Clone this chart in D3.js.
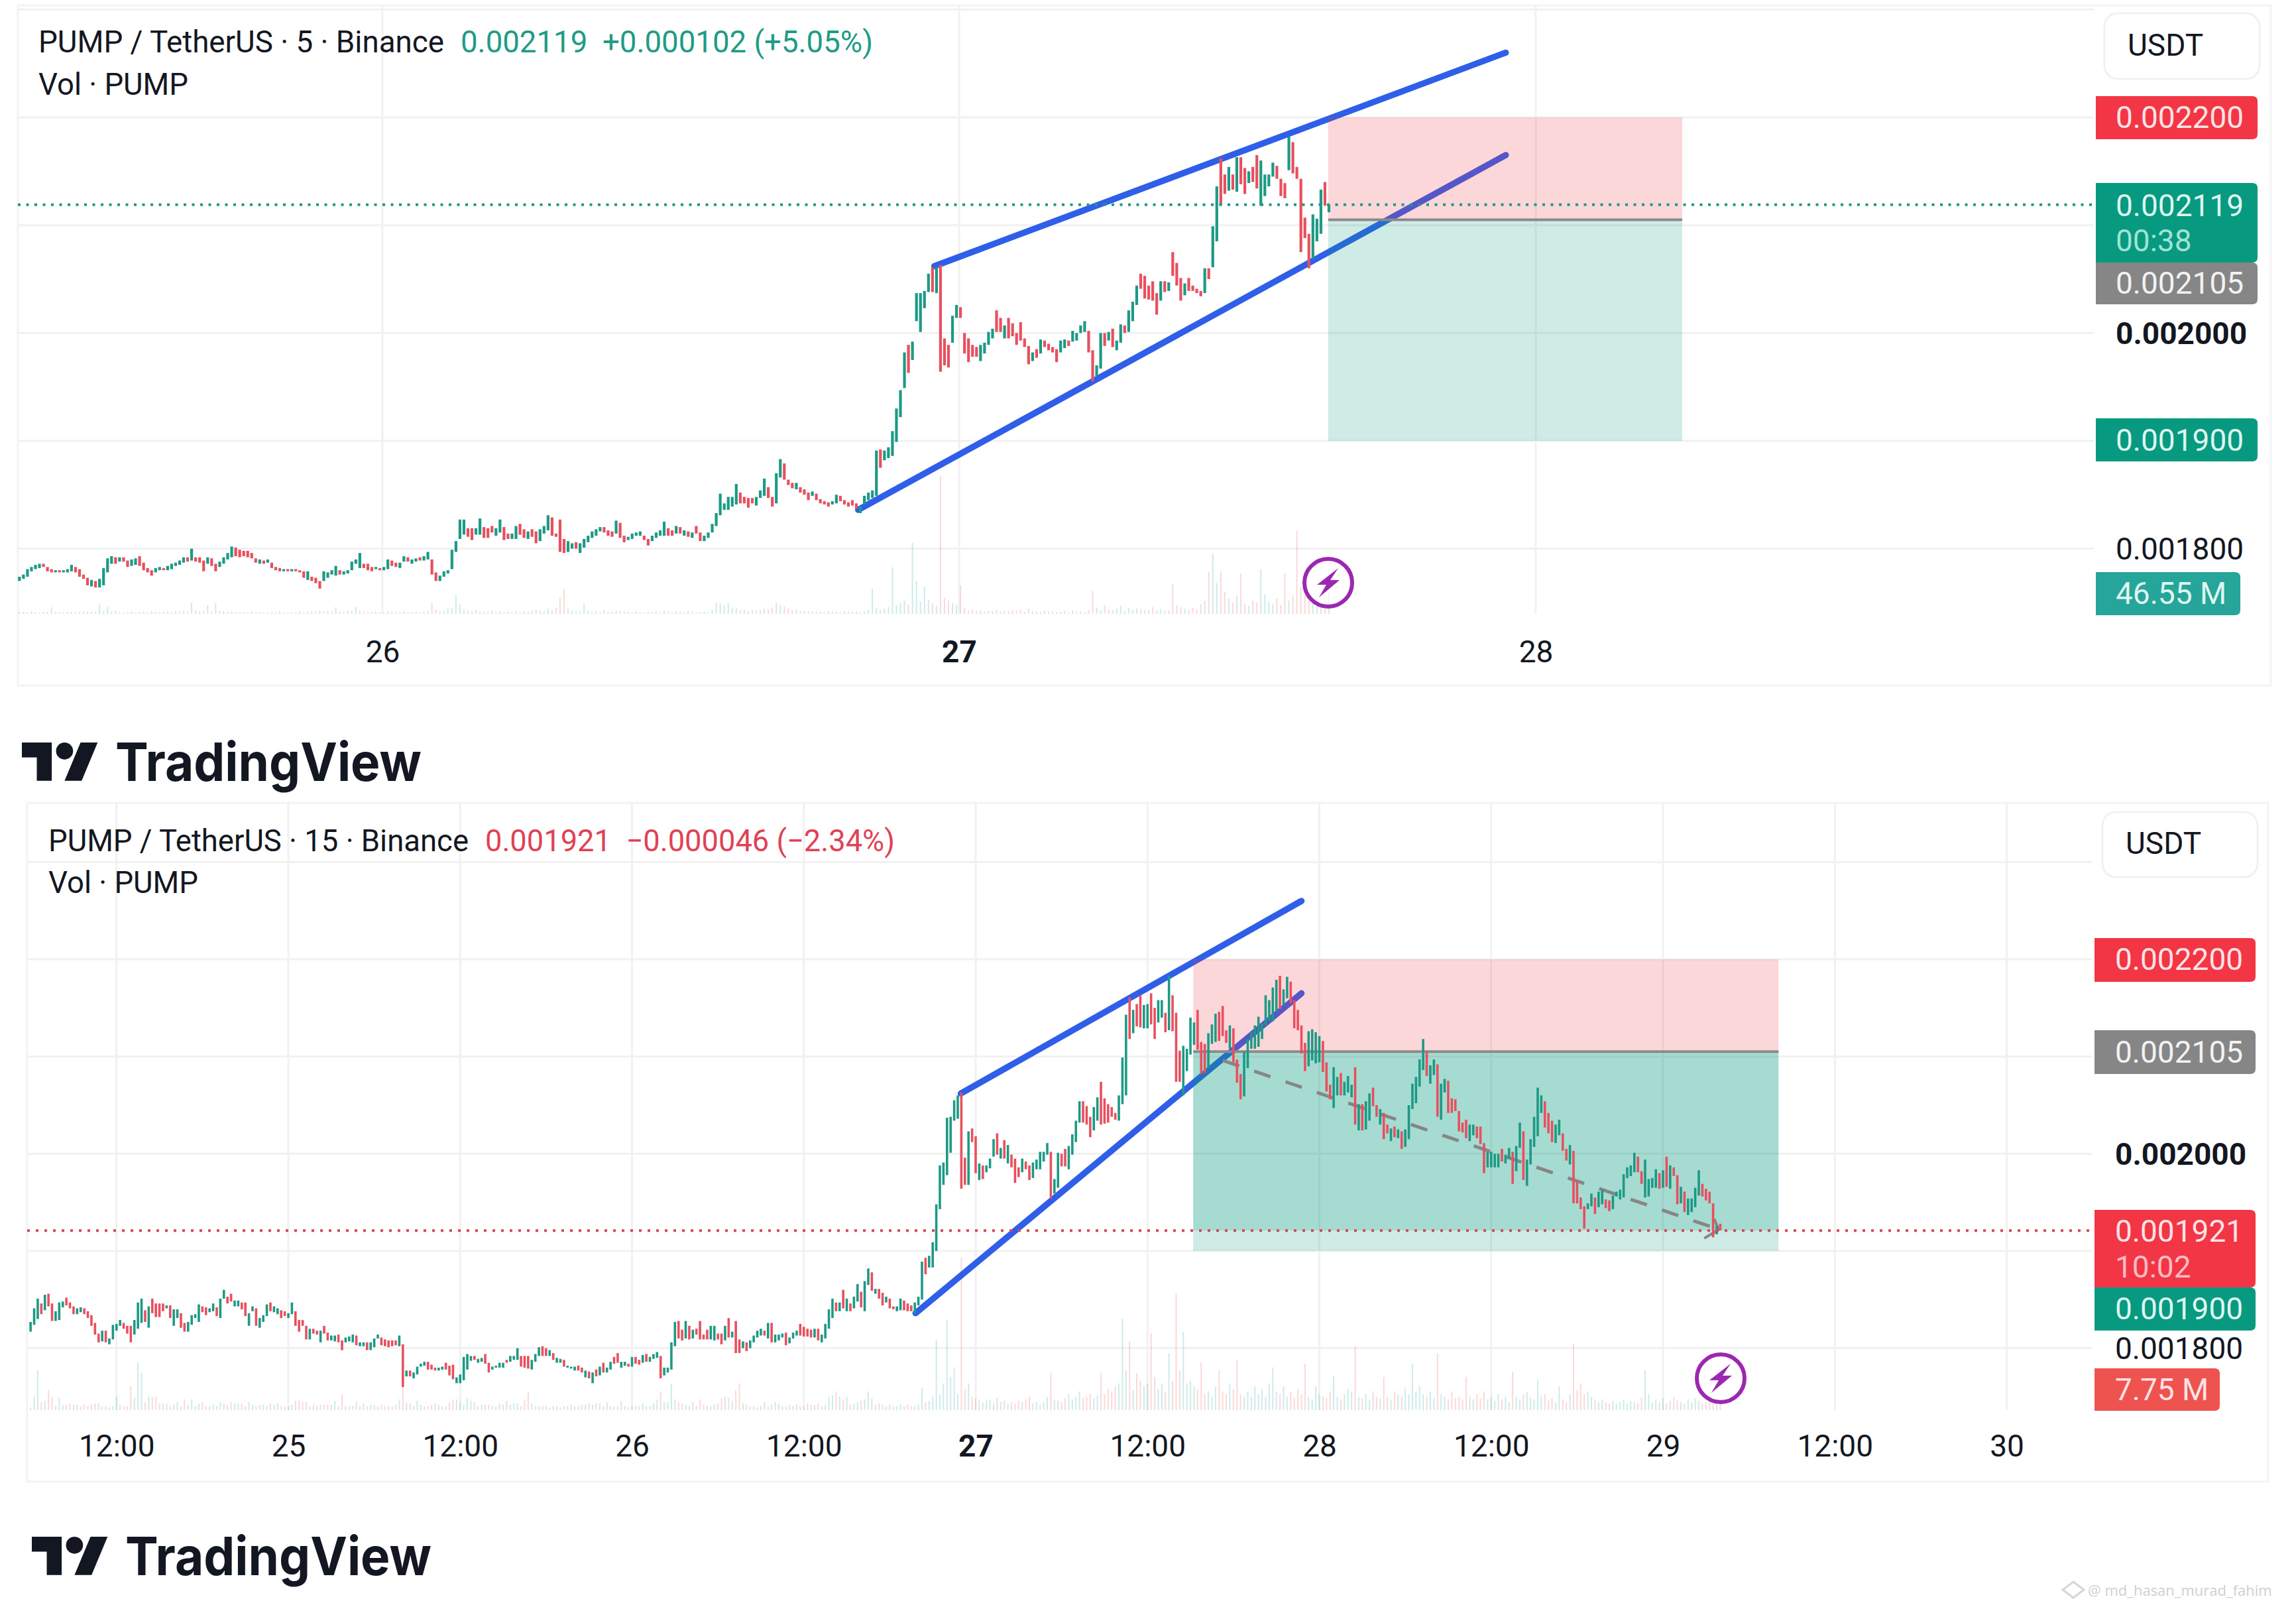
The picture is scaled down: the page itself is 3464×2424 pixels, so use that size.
<!DOCTYPE html>
<html>
<head>
  <meta charset="utf-8">
  <title>PUMP / TetherUS</title>
  <style>
    body { margin: 0; background: #fff; }
    svg { display: block; }
    text { font-family: Roboto, sans-serif; fill: #131722; }
    .tick line, .domain { display: none; }
  </style>
  <script src="https://d3js.org/d3.v7.min.js"></script>
</head>
<body>
<script>
// all prices are in millionths of a USDT (2119 = 0.002119), time is in days of the month
var open5 = [1770,1772,1774,1779,1781,1782,1786,1783,1781,1778,1780,1778,1778,1779,1783,1781,1776,1773,1765,1770,
1764,1766,1778,1786,1792,1788,1792,1789,1784,1785,1793,1787,1782,1780,1778,1780,1782,1780,1781,1784,
1785,1787,1792,1789,1792,1792,1789,1786,1791,1786,1783,1786,1790,1792,1801,1799,1798,1798,1796,1791,
1786,1789,1787,1787,1783,1782,1779,1781,1779,1781,1780,1779,1771,1774,1773,1770,1770,1773,1776,1775,
1780,1776,1777,1780,1786,1782,1786,1786,1783,1781,1782,1780,1781,1789,1787,1782,1788,1792,1786,1788,
1792,1789,1790,1790,1778,1770,1774,1777,1781,1797,1809,1813,1819,1819,1813,1813,1820,1819,1821,1812,
1815,1820,1814,1809,1809,1823,1818,1809,1818,1816,1807,1814,1817,1829,1814,1827,1809,1797,1800,1806,
1796,1801,1806,1810,1812,1816,1820,1817,1816,1814,1824,1812,1808,1809,1812,1812,1812,1809,1807,1810,
1812,1812,1819,1817,1814,1820,1812,1816,1810,1821,1815,1807,1810,1815,1821,1831,1836,1836,1839,1841,
1852,1848,1847,1847,1840,1847,1849,1857,1848,1842,1866,1879,1864,1861,1855,1857,1855,1852,1849,1851,
1846,1844,1843,1841,1842,1849,1845,1843,1845,1842,
1833,1841,1845,1847,1849,1892,1882,1884,1886,1899,1922,1949,1989,1975,2011,2001,2023,2038,2061,2037,
2063,1995,1989,1991,2014,2024,2000,1995,1989,1987,1974,1981,1989,1995,2021,2014,1995,2014,2009,2000,
2010,1995,1988,1974,1985,1981,1993,1990,1987,1985,1982,1986,1993,1992,1993,2000,2001,2002,1984,1960,
1967,2000,1993,2004,1984,1991,2007,2001,2011,2026,2055,2053,2044,2048,2037,2030,2048,2039,2075,2065,
2051,2035,2051,2044,2041,2039,2037,2060,2061,2085,2162,2147,2132,2147,2131,2163,2153,2139,2154,2165,
2118,2127,2136,2145,2155,2143,2139,2151,2177,2154,2143,2107,2092,2069,2085,2092,2140,2112];
var close5 = [1774,1776,1781,1783,1785,1786,1783,1779,1778,1780,1778,1780,1781,1785,1778,1774,1772,1766,1771,1764,
1772,1782,1791,1793,1786,1792,1788,1783,1790,1791,1784,1780,1778,1775,1782,1783,1780,1784,1786,1787,
1789,1792,1788,1800,1788,1787,1779,1792,1784,1779,1788,1792,1796,1802,1793,1792,1793,1792,1791,1787,
1790,1786,1790,1782,1780,1779,1781,1779,1781,1779,1778,1773,1779,1770,1768,1763,1779,1778,1780,1784,
1776,1779,1780,1788,1790,1796,1782,1780,1779,1783,1780,1783,1790,1784,1783,1787,1793,1788,1790,1791,
1789,1793,1797,1776,1770,1775,1779,1780,1799,1807,1827,1827,1811,1808,1819,1828,1810,1810,1815,1819,
1827,1808,1809,1814,1821,1813,1810,1816,1811,1805,1818,1821,1831,1812,1811,1797,1796,1807,1805,1800,
1805,1809,1812,1816,1818,1820,1815,1812,1811,1826,1810,1806,1811,1814,1815,1816,1808,1803,1812,1815,
1817,1825,1812,1812,1821,1814,1817,1811,1815,1814,1807,1812,1815,1823,1833,1851,1842,1848,1848,1860,
1842,1842,1838,1842,1848,1854,1865,1847,1839,1870,1883,1864,1859,1856,1861,1852,1850,1845,1853,1845,
1842,1841,1839,1844,1850,1844,1841,1839,1840,1837,
1839,1849,1852,1854,1891,1875,1891,1894,1909,1930,1947,1982,1963,1992,2037,2037,2039,2055,2038,2061,
1964,1970,1968,2016,2026,2014,1981,1973,1978,1978,1989,1991,2001,2004,2001,2001,2007,1995,1997,1989,
1993,1987,1971,1982,1977,1994,1987,1984,1982,1973,1993,1994,1988,2002,2000,2007,2011,1982,1955,1970,
2000,1988,2001,1987,1993,2008,2000,2021,2029,2044,2041,2032,2031,2030,2017,2048,2038,2047,2053,2044,
2030,2046,2039,2039,2037,2034,2060,2050,2099,2136,2119,2129,2154,2133,2163,2138,2129,2150,2140,2134,
2160,2147,2147,2158,2143,2127,2125,2182,2148,2143,2075,2088,2060,2110,2106,2133,2118,2119];
var vol5 = [4,5,4,6,4,3,5,4,15,5,4,3,4,5,3,4,6,5,5,4,
22,6,17,5,7,4,3,4,5,3,4,4,3,5,4,3,4,5,4,6,
5,7,5,25,8,5,6,20,5,25,6,5,4,5,4,3,4,3,5,3,
4,3,3,4,3,5,3,3,4,3,5,3,4,6,5,7,5,6,5,15,
5,4,7,6,16,8,5,4,3,5,4,3,6,5,4,3,5,4,3,4,
3,5,6,25,10,6,8,12,13,43,22,10,7,6,9,5,6,4,7,5,
6,4,5,3,7,4,6,5,8,9,7,5,12,8,14,37,57,12,8,6,
5,23,7,5,6,4,9,4,5,6,7,5,4,3,5,4,3,5,4,6,
4,8,5,4,6,5,4,7,5,4,3,5,4,9,25,24,20,25,12,14,
8,10,6,9,7,8,12,10,14,25,20,17,12,9,10,6,7,5,6,4,
5,4,6,5,4,3,6,5,4,5,3,6,9,57,14,10,12,16,106,20,
24,30,22,161,75,28,62,32,24,18,313,36,30,24,20,65,14,8,10,6,
8,5,7,6,9,5,7,6,8,7,10,5,12,6,5,4,7,5,6,4,
5,7,4,8,5,6,4,9,52,14,8,20,10,9,12,18,7,14,9,12,
10,8,9,15,8,11,7,8,67,20,15,12,9,14,10,22,30,96,136,70,
96,50,35,26,40,92,22,18,30,26,101,45,28,22,35,20,92,30,40,188,
60,42,30,38,25,22,30,47];

var open15 = [1817,1824,1830,1846,1839,1856,1846,1828,1829,1842,1852,1847,1843,1835,1837,1841,1838,1834,1826,1815,
1807,1818,1804,1809,1818,1823,1826,1823,1823,1814,1820,1826,1839,1821,1851,1846,1846,1846,1841,1844,
1823,1831,1836,1826,1817,1824,1831,1827,1843,1842,1837,1838,1842,1831,1851,1853,1856,1843,1843,1847,
1847,1823,1838,1841,1821,1827,1833,1847,1837,1835,1839,1838,1831,1835,1838,1829,1829,1823,1809,1820,
1818,1806,1823,1816,1808,1807,1814,1808,1806,1807,1806,1813,1802,1802,1806,1798,1801,1810,1811,1809,
1808,1808,1808,1802,1804,1771,1777,1769,1773,1781,1782,1786,1783,1780,1777,1778,1785,1782,1783,1764,
1764,1767,1778,1787,1792,1785,1786,1794,1785,1778,1780,1780,1780,1788,1786,1788,1788,1792,1792,1792,
1778,1786,1792,1802,1800,1792,1795,1785,1785,1788,1780,1779,1777,1782,1780,1770,1776,1764,1778,1772,
1785,1775,1778,1791,1795,1780,1782,1784,1781,1791,1788,1785,1794,1786,1789,1790,1792,1772,1775,1778,
1802,1828,1819,1810,1823,1810,1820,1828,1814,1819,1809,1808,1815,1815,1808,1831,1811,1828,1809,1800,
1806,1800,1806,1811,1813,1818,1810,1826,1806,1808,1811,1816,1805,1810,1813,1825,1822,1820,1819,1811,
1820,1806,1810,1820,1831,1847,1838,1860,1838,1846,1841,1848,1858,1838,1865,1878,1856,1861,1857,1847,
1851,1843,1838,1839,1849,1846,1844,1836,1844,1850,1893,1883,1883,1900,1943,1968,1978,2001,2034,2036,
2063,1996,1968,2026,2018,1973,1988,1981,1985,1997,2021,1995,2014,1990,1999,1995,1986,1981,1992,1988,
1975,1984,1984,1992,1999,2002,1959,1965,2000,2005,1984,1999,2012,2032,2054,2049,2038,2024,2034,2074,
2057,2051,2048,2042,2034,2051,2060,2161,2124,2154,2163,2129,2129,2165,2150,2135,2140,2145,2127,2163,
2145,2106,2060,2085,2102,2112,2148,2115,2113,2088,2113,2115,2146,2152,2127,2108,2129,2097,2082,2059,
2088,2108,2108,2110,2118,2132,2137,2136,2146,2183,2153,2160,2177,2158,2148,2132,2114,2090,2096,2093,
2094,2116,2094,2071,2047,2060,2083,2060,2063,2058,2089,2024,2051,2025,2034,2068,2050,2030,2042,2030,
2013,2028,2016,2023,2007,2015,2046,2052,2069,2086,2105,2072,2081,2092,2035,2063,2075,2057,2056,2044,
2032,2035,2013,2019,2028,2028,2011,1986,1986,1986,1986,2005,1990,1995,2002,1982,2006,2023,1967,1989,
2007,2018,2042,2054,2042,2034,2011,2019,2021,2005,1989,2003,1972,1955,1946,1943,1946,1955,1945,1948,
1953,1952,1943,1956,1953,1955,1975,1977,1981,1997,1982,1955,1956,1965,1965,1980,1965,1997,1964,1986,
1978,1949,1961,1937,1940,1945,1957,1969,1964,1961,1949,1917,1928];
var close15 = [1827,1841,1851,1835,1855,1843,1828,1838,1847,1848,1844,1841,1835,1841,1842,1835,1831,1823,1814,1806,
1818,1806,1810,1824,1825,1829,1820,1815,1806,1829,1847,1851,1827,1843,1836,1832,1832,1838,1844,1831,
1840,1840,1821,1817,1827,1834,1835,1845,1837,1834,1841,1846,1833,1851,1860,1846,1848,1849,1849,1840,
1833,1836,1843,1823,1831,1834,1845,1838,1843,1841,1831,1833,1836,1847,1823,1817,1823,1809,1820,1815,
1814,1818,1815,1808,1813,1813,1806,1798,1811,1812,1814,1803,1806,1806,1798,1806,1810,1814,1803,1802,
1801,1802,1803,1813,1760,1777,1771,1775,1781,1784,1786,1778,1778,1777,1780,1781,1778,1772,1768,1770,
1773,1791,1794,1792,1788,1789,1790,1784,1775,1781,1782,1785,1785,1785,1792,1792,1800,1781,1780,1779,
1788,1794,1801,1792,1792,1798,1788,1790,1789,1781,1782,1781,1781,1777,1775,1777,1769,1775,1771,1781,
1775,1780,1786,1784,1785,1786,1786,1781,1791,1784,1783,1793,1786,1791,1794,1796,1769,1780,1780,1806,
1827,1810,1808,1828,1809,1819,1814,1809,1809,1809,1823,1823,1809,1804,1823,1811,1817,1795,1795,1807,
1797,1808,1813,1818,1820,1813,1826,1806,1814,1814,1815,1803,1811,1816,1818,1813,1812,1812,1811,1820,
1808,1814,1825,1840,1851,1838,1847,1841,1851,1838,1853,1866,1842,1869,1882,1859,1861,1851,1844,1853,
1841,1840,1843,1851,1839,1838,1838,1847,1853,1889,1876,1895,1909,1948,1988,1991,2037,2038,2055,2060,
1964,1968,2023,2012,1980,1990,1974,1988,1995,2015,1999,2006,1995,2009,1986,1970,1976,1995,1984,1973,
1991,1994,2002,2002,2011,1954,1974,2001,1987,1987,2008,2020,2034,2054,2032,2030,2017,2048,2058,2030,
2031,2032,2038,2035,2060,2099,2143,2118,2148,2131,2130,2153,2154,2133,2118,2158,2158,2125,2183,2126,
2074,2074,2111,2108,2140,2135,2107,2082,2083,2124,2133,2144,2116,2121,2114,2132,2094,2073,2056,2105,
2118,2125,2132,2141,2134,2163,2158,2171,2179,2149,2169,2182,2155,2129,2127,2103,2085,2126,2128,2125,
2121,2084,2064,2056,2089,2079,2060,2074,2080,2071,2030,2051,2024,2054,2062,2049,2038,2046,2015,2021,
2026,2017,2025,2005,2025,2050,2072,2079,2097,2118,2080,2091,2097,2038,2072,2077,2042,2042,2044,2023,
2022,2016,2030,2030,2016,2010,1980,2002,2002,2000,2000,1992,1999,2006,1969,2008,2032,1973,1994,2015,
2038,2068,2060,2027,2021,2012,2030,2035,2003,1993,2009,1949,1949,1943,1923,1949,1959,1938,1961,1963,
1944,1941,1957,1961,1963,1979,1986,1988,2001,1981,1969,1994,1974,1975,1984,1964,1983,1966,1988,1977,
1948,1966,1940,1954,1954,1965,1983,1956,1952,1949,1914,1926,1921];
var vol15 = [2,10,30,6,7,15,10,3,9,4,4,5,4,4,3,4,3,4,5,5,
3,3,2,3,10,4,3,3,18,9,36,28,6,10,10,10,5,5,5,3,
4,6,3,8,4,8,3,5,6,3,3,4,3,6,5,4,6,5,5,5,
3,6,4,3,4,4,3,5,4,5,3,3,3,4,7,7,6,6,3,4,
3,4,4,4,4,7,3,12,3,3,3,6,3,5,3,4,4,3,4,3,
3,3,4,8,17,6,5,3,7,4,3,3,4,5,4,3,3,6,8,8,
6,4,9,7,6,3,4,4,4,3,3,5,4,7,4,5,5,3,8,14,
5,3,3,3,3,2,3,3,2,3,3,4,3,3,4,4,5,4,5,5,
3,6,3,3,3,7,3,2,3,3,3,5,3,3,5,8,14,6,6,20,
8,6,5,4,3,6,3,8,4,3,3,4,5,9,10,9,7,15,20,5,
4,3,3,2,3,6,3,4,6,5,3,3,4,3,4,3,3,5,4,4,
5,3,4,10,11,14,10,8,10,4,5,6,7,8,14,9,4,5,4,3,
4,3,3,4,3,4,3,3,4,17,6,7,10,53,12,20,68,25,32,12,
115,16,20,10,9,8,6,7,8,5,9,6,7,5,6,5,7,6,8,10,
5,6,4,6,10,28,8,7,6,9,12,8,10,14,9,10,12,9,11,28,
12,16,14,18,20,69,30,52,15,28,22,18,20,58,25,16,20,14,43,22,
88,30,59,20,22,18,16,36,12,14,10,18,30,14,12,20,16,38,12,10,
14,10,18,12,16,10,20,32,14,12,18,10,14,9,16,12,35,10,8,18,
12,10,9,14,26,10,8,12,16,14,48,10,9,12,8,14,10,9,25,10,
8,14,12,10,16,12,35,14,18,12,10,14,9,43,12,10,8,14,9,10,
8,25,10,8,12,9,14,8,10,7,12,8,10,6,29,10,8,12,14,9,
8,23,10,12,7,9,6,18,8,6,12,50,15,20,12,14,10,8,6,8,
6,5,7,5,6,8,5,7,6,5,9,30,12,6,8,6,9,5,7,10,
7,6,5,8,6,9,7,5,6,8,5,9,8];

var priceGrid = [1800,1900,2000,2100,2200,2300];
var plainTicks = [1800,2000];
var timeTicks5 = [26,27,28];
var timeLabels5 = ["26","27","28"];
var timeTicks15 = [24.5,25,25.5,26,26.5,27,27.5,28,28.5,29,29.5,30];
var timeLabels15 = ["12:00","25","12:00","26","12:00","27","12:00","28","12:00","29","12:00","30"];

// same two channel lines on both charts: [day, price]
var channelTop = [[26.957,2062],[27.948,2260]];
var channelBottom = [[26.825,1836],[27.948,2165]];
var stop = 2200, entry = 2105, target = 1900;
var slideLine = [[27.719,2096],[29.156,1923]];
var slideArrow = [[29.12,1913],[29.162,1922],[29.149,1933]];

var green = "#1d9a85", red = "#e8505f", blue = "#2f5ee8";
var svg = d3.select("body").append("svg").attr("width",3464).attr("height",2424);

function drawChart(c) {
  var g = svg.append("g");
  var x = d3.scaleLinear().domain(c.dayDomain).range(c.dayRange);
  var y = d3.scaleLinear().domain([1800,2200]).range(c.priceRange);
  var v = d3.scaleLinear().domain([0,c.volMax]).range([c.volBase,c.volTop]);
  var line = d3.line().x(function(d){return x(d[0]);}).y(function(d){return y(d[1]);});
  var barX = function(i){ return x(c.t0 + i*c.step); };

  // frame
  g.append("rect").attr("x",c.left).attr("y",c.top).attr("width",c.right-c.left).attr("height",c.bottom-c.top)
    .attr("fill","none").attr("stroke","#f3f3f3").attr("stroke-width",3);

  // grid
  g.selectAll(".hg").data(priceGrid).enter().append("line")
    .attr("x1",c.left).attr("x2",c.plotRight)
    .attr("y1",function(d){return y(d);}).attr("y2",function(d){return y(d);})
    .attr("stroke","#f1f1f1").attr("stroke-width",3);
  g.selectAll(".vg").data(c.ticks).enter().append("line")
    .attr("x1",function(d){return x(d);}).attr("x2",function(d){return x(d);})
    .attr("y1",c.top).attr("y2",c.volBase)
    .attr("stroke","#f1f1f1").attr("stroke-width",3);

  // volume
  g.selectAll(".vol").data(c.vol).enter().append("line")
    .attr("x1",function(d,i){return barX(i);}).attr("x2",function(d,i){return barX(i);})
    .attr("y1",c.volBase).attr("y2",function(d){return v(d);})
    .attr("stroke",function(d,i){return c.close[i]>=c.open[i] ? "#26a69a" : "#ef5350";})
    .attr("stroke-opacity",0.22).attr("stroke-width",c.volWidth);

  // channel goes under the position boxes, that is why it turns purple inside the pink
  [channelTop,channelBottom].forEach(function(l){
    g.append("path").attr("d",line(l)).attr("fill","none").attr("stroke",blue)
      .attr("stroke-width",9.5).attr("stroke-linecap","round");
  });

  // long/short position boxes
  var bx = x(c.boxDays[0]), bw = x(c.boxDays[1])-bx;
  g.append("rect").attr("x",bx).attr("width",bw).attr("y",y(stop)).attr("height",y(entry)-y(stop))
    .attr("fill","#f23645").attr("fill-opacity",0.2);
  g.append("rect").attr("x",bx).attr("width",bw).attr("y",y(entry)).attr("height",y(target)-y(entry))
    .attr("fill","#089981").attr("fill-opacity",0.2);
  if (c.last < entry) {
    g.append("rect").attr("x",bx).attr("width",bw).attr("y",y(entry)).attr("height",y(c.last)-y(entry))
      .attr("fill","#089981").attr("fill-opacity",0.2);
  }
  g.append("line").attr("x1",bx).attr("x2",bx+bw).attr("y1",y(entry)).attr("y2",y(entry))
    .attr("stroke","#8a8a8a").attr("stroke-width",4);

  if (c.slide) {
    g.append("path").attr("d",line(slideLine)).attr("fill","none").attr("stroke","#868686")
      .attr("stroke-width",5).attr("stroke-dasharray","26 24");
    g.append("path").attr("d",line(slideArrow)).attr("fill","none").attr("stroke","#868686").attr("stroke-width",4);
  }

  // price bars
  g.selectAll(".bar").data(c.open).enter().append("line")
    .attr("x1",function(d,i){return barX(i);}).attr("x2",function(d,i){return barX(i);})
    .attr("y1",function(d){return y(d);}).attr("y2",function(d,i){return y(c.close[i]);})
    .attr("stroke",function(d,i){return c.close[i]>=d ? green : red;})
    .attr("stroke-width",c.barWidth);

  // last price
  g.append("line").attr("x1",c.left).attr("x2",c.plotRight).attr("y1",y(c.last)).attr("y2",y(c.last))
    .attr("stroke",c.last<entry ? "#d9475a" : green).attr("stroke-width",4)
    .attr("stroke-dasharray","4 "+c.dotGap);

  // lightning badge
  var b = g.append("g").attr("transform","translate("+c.badge[0]+","+c.badge[1]+")");
  b.append("circle").attr("r",36).attr("fill","#fff").attr("fill-opacity",0.6).attr("stroke","#9c27b0").attr("stroke-width",6);
  b.append("path").attr("d","M15,-22 L-17,3 L-3,3 L-14,22 L17,-4 L3,-4 Z").attr("fill","#9c27b0");

  // time axis
  var ax = g.append("g").attr("transform","translate(0,"+c.axisY+")")
    .call(d3.axisBottom(x).tickValues(c.ticks).tickSize(0).tickPadding(0)
      .tickFormat(function(d,i){return c.tickLabels[i];}));
  ax.selectAll("text").attr("dy","0.35em").style("font-size","46px").style("font-family","Roboto")
    .style("font-weight",function(d){return d===27 ? 700 : 400;});

  // plain price scale labels
  var ay = g.append("g").attr("transform","translate("+c.priceTextX+",0)")
    .call(d3.axisRight(y).tickValues(plainTicks).tickSize(0).tickPadding(0)
      .tickFormat(function(d){return d3.format(".6f")(d/1e6);}));
  ay.selectAll("text").attr("dy","0.35em").style("font-size","46px").style("font-family","Roboto")
    .style("font-weight",function(d){return d===2000 ? 700 : 400;});

  // coloured price tags
  c.tags.forEach(function(t){
    var w = t.w, x0 = c.tagX;
    g.append("path").attr("fill",t.fill)
      .attr("d","M"+x0+","+t.y0+"H"+(x0+w-8)+"q8,0 8,8V"+(t.y1-8)+"q0,8 -8,8H"+x0+"Z");
    g.append("text").text(t.text).attr("x",c.priceTextX).attr("y",t.yt).attr("dy","0.35em")
      .style("font-size","46px").style("fill",t.color);
    if (t.sub) {
      g.append("text").text(t.sub).attr("x",c.priceTextX).attr("y",t.ys).attr("dy","0.35em")
        .style("font-size","46px").style("fill",t.subColor);
    }
  });

  // currency button
  g.append("rect").attr("x",c.usdt[0]).attr("y",c.usdt[1]).attr("width",c.usdt[2]).attr("height",c.usdt[3])
    .attr("rx",20).attr("fill","#fff").attr("stroke","#f1f1f1").attr("stroke-width",3);
  g.append("text").text("USDT").attr("x",c.usdt[0]+35).attr("y",c.usdt[1]+c.usdt[3]/2-2).attr("dy","0.35em")
    .style("font-size","46px");

  // legend
  g.append("text").text(c.title).attr("x",c.legendX).attr("y",c.legendY).attr("dy","0.35em")
    .attr("textLength",c.titleW).attr("lengthAdjust","spacingAndGlyphs").style("font-size","46px");
  g.append("text").text(c.values).attr("x",c.valuesX).attr("y",c.legendY).attr("dy","0.35em")
    .attr("textLength",c.valuesW).attr("lengthAdjust","spacingAndGlyphs")
    .style("font-size","46px").style("fill",c.valuesColor).style("white-space","pre");
  g.append("text").text("Vol \u00b7 PUMP").attr("x",c.legendX).attr("y",c.volY).attr("dy","0.35em")
    .attr("textLength",226).attr("lengthAdjust","spacingAndGlyphs").style("font-size","46px");
}

function drawLogo(lx, ly, tx, ty) {
  var g = svg.append("g").attr("transform","translate("+lx+","+ly+") scale(3.22)");
  g.append("path").attr("d","M14 22H7V11H0V4h14v18zM28 22h-8l7.5-18h8L28 22z").attr("fill","#131722");
  g.append("circle").attr("cx",20).attr("cy",8).attr("r",4).attr("fill","#131722");
  svg.append("text").text("TradingView").attr("x",tx).attr("y",ty)
    .attr("textLength",462).attr("lengthAdjust","spacingAndGlyphs")
    .style("font-family","Inter").style("font-weight",700).style("font-size","80px");
}

drawChart({
  open: open5, close: close5, vol: vol5, t0: 25.3705, step: 10/1440, last: 2119,
  dayDomain: [26,28], dayRange: [577,2317], priceRange: [827.6,177],
  left: 27, right: 3426, top: 8, bottom: 1034, plotRight: 3159,
  volBase: 926, volTop: 801, volMax: 188, volWidth: 2, barWidth: 4.2, dotGap: 8.5,
  ticks: timeTicks5, tickLabels: timeLabels5, axisY: 983,
  boxDays: [27.64,28.254], slide: false, badge: [2004,879],
  priceTextX: 3192, tagX: 3162, usdt: [3175,20,234,99],
  legendX: 58, legendY: 63, volY: 127, titleW: 612,
  title: "PUMP / TetherUS \u00b7 5 \u00b7 Binance",
  values: "0.002119\u00a0\u00a0+0.000102 (+5.05%)", valuesX: 695, valuesW: 622, valuesColor: "#1f9b86",
  tags: [
    {text:"0.002200", fill:"#f23645", color:"#fde3e5", w:244, y0:145, y1:210, yt:177},
    {text:"0.002119", sub:"00:38", fill:"#089981", color:"#dff5f0", subColor:"#9fe3d4", w:244, y0:276, y1:396, yt:310, ys:363},
    {text:"0.002105", fill:"#868686", color:"#f2f2f2", w:244, y0:396, y1:459, yt:427},
    {text:"0.001900", fill:"#089981", color:"#dff5f0", w:244, y0:631, y1:696, yt:664},
    {text:"46.55 M", fill:"#26a69a", color:"#dff5f0", w:218, y0:863, y1:928, yt:895}
  ]
});

drawChart({
  open: open15, close: close15, vol: vol15, t0: 24.25, step: 1/96, last: 1921,
  dayDomain: [25,29], dayRange: [435,2509], priceRange: [2033.6,1447],
  left: 41, right: 3422, top: 1211, bottom: 2235, plotRight: 3156,
  volBase: 2127, volTop: 1897, volMax: 115, volWidth: 2, barWidth: 3.6, dotGap: 9,
  ticks: timeTicks15, tickLabels: timeLabels15, axisY: 2181,
  boxDays: [27.633,29.336], slide: true, badge: [2596,2079],
  priceTextX: 3191, tagX: 3160, usdt: [3172,1225,234,98],
  legendX: 73, legendY: 1268, volY: 1331, titleW: 634,
  title: "PUMP / TetherUS \u00b7 15 \u00b7 Binance",
  values: "0.001921\u00a0\u00a0\u22120.000046 (\u22122.34%)", valuesX: 732, valuesW: 618, valuesColor: "#df4256",
  tags: [
    {text:"0.002200", fill:"#f23645", color:"#fde3e5", w:243, y0:1415, y1:1481, yt:1447},
    {text:"0.002105", fill:"#868686", color:"#f2f2f2", w:243, y0:1554, y1:1620, yt:1587},
    {text:"0.001921", sub:"10:02", fill:"#f23645", color:"#fde3e5", subColor:"#fbbcc2", w:243, y0:1825, y1:1942, yt:1857, ys:1911},
    {text:"0.001900", fill:"#089981", color:"#dff5f0", w:243, y0:1942, y1:2007, yt:1974},
    {text:"7.75 M", fill:"#ef5350", color:"#fde3e5", w:189, y0:2064, y1:2128, yt:2096}
  ]
});

drawLogo(33, 1107, 174, 1178);
drawLogo(48, 2305, 189, 2376);

// watermark
svg.append("text").text("@ md_hasan_murad_fahim").attr("x",3150).attr("y",2399).attr("dy","0.35em")
  .style("font-size","22px").style("fill","#cfcfcf").style("font-family","Open Sans");
svg.append("path").attr("d","M3128,2386 l16,12 l-16,12 l-16,-12 Z").attr("fill","none").attr("stroke","#d6d6d6").attr("stroke-width",3);
</script>
</body>
</html>
